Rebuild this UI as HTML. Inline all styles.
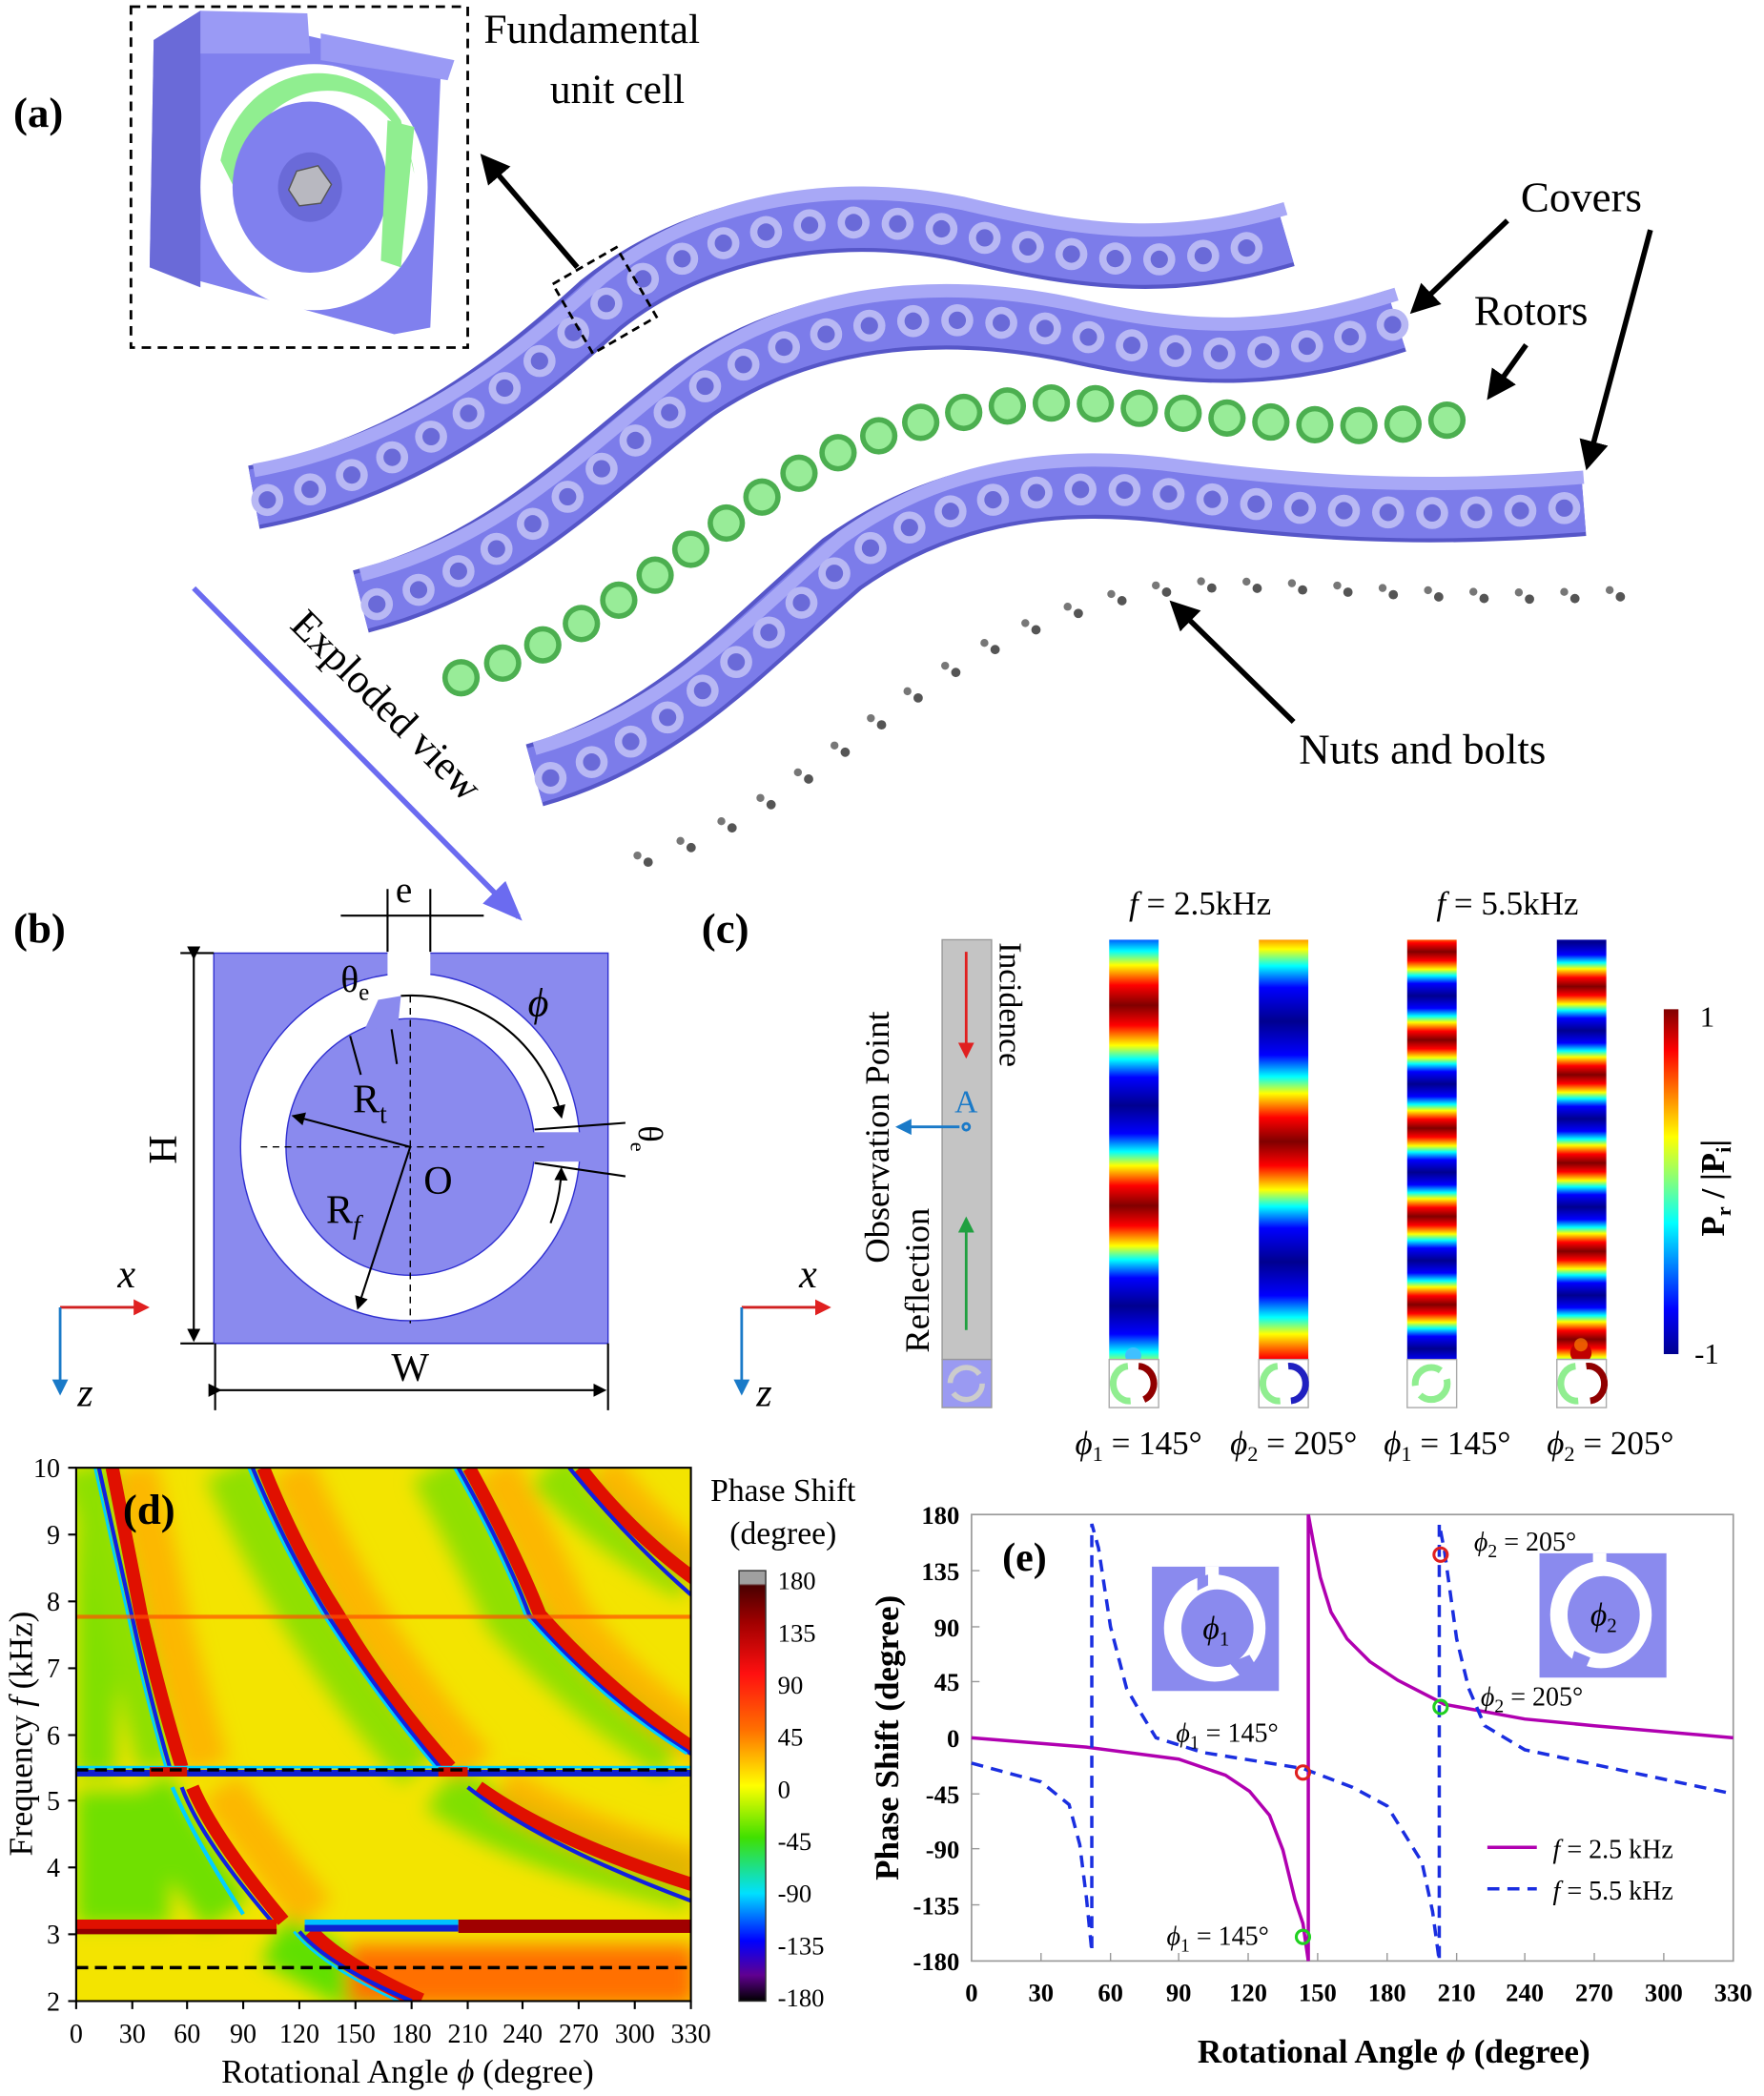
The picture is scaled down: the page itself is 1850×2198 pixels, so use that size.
<!DOCTYPE html>
<html><head><meta charset="utf-8"><style>
html,body{margin:0;padding:0;background:#fff}
svg{display:block}
text{font-family:"Liberation Serif",serif}
</style></head><body>
<svg width="1850" height="2198" viewBox="0 0 1320 1568" preserveAspectRatio="none" xmlns="http://www.w3.org/2000/svg">
<defs>
<filter id="bl" x="-20%" y="-20%" width="140%" height="140%"><feGaussianBlur stdDeviation="7"/></filter>
<clipPath id="cd"><rect x="57" y="1098" width="460" height="399"/></clipPath>
<marker id="ah" markerWidth="10" markerHeight="10" refX="8" refY="5" orient="auto" markerUnits="userSpaceOnUse"><path d="M0,0 L10,5 L0,10 z" fill="#000"/></marker>
<marker id="ahb" markerWidth="22" markerHeight="22" refX="18" refY="11" orient="auto" markerUnits="userSpaceOnUse"><path d="M0,0 L22,11 L0,22 z" fill="#000"/></marker>
<marker id="ahv" markerWidth="30" markerHeight="30" refX="26" refY="15" orient="auto" markerUnits="userSpaceOnUse"><path d="M0,3 L30,15 L0,27 z" fill="#6b6bf0"/></marker>
<marker id="ahr" markerWidth="12" markerHeight="12" refX="10" refY="6" orient="auto" markerUnits="userSpaceOnUse"><path d="M0,0 L12,6 L0,12 z" fill="#e02020"/></marker>
<marker id="ahg" markerWidth="12" markerHeight="12" refX="10" refY="6" orient="auto" markerUnits="userSpaceOnUse"><path d="M0,0 L12,6 L0,12 z" fill="#20a040"/></marker>
<marker id="ahbl" markerWidth="12" markerHeight="12" refX="10" refY="6" orient="auto" markerUnits="userSpaceOnUse"><path d="M0,0 L12,6 L0,12 z" fill="#1a7ac8"/></marker>
<linearGradient id="jetc" x1="0" y1="0" x2="0" y2="1">
<stop offset="0" stop-color="#800000"/><stop offset=".1" stop-color="#ff0000"/><stop offset=".2" stop-color="#ffff00"/><stop offset=".27" stop-color="#00ffff"/><stop offset=".36" stop-color="#0000ff"/><stop offset=".5" stop-color="#00008f"/><stop offset=".64" stop-color="#0000ff"/><stop offset=".73" stop-color="#00ffff"/><stop offset=".8" stop-color="#ffff00"/><stop offset=".9" stop-color="#ff0000"/><stop offset="1" stop-color="#800000"/>
</linearGradient>
<linearGradient id="c1" href="#jetc" gradientUnits="userSpaceOnUse" x1="0" y1="752" x2="0" y2="902" spreadMethod="repeat"/>
<linearGradient id="c2" href="#jetc" gradientUnits="userSpaceOnUse" x1="0" y1="674" x2="0" y2="854" spreadMethod="repeat"/>
<linearGradient id="c3" href="#jetc" gradientUnits="userSpaceOnUse" x1="0" y1="712" x2="0" y2="778" spreadMethod="repeat"/>
<linearGradient id="c4" href="#jetc" gradientUnits="userSpaceOnUse" x1="0" y1="738" x2="0" y2="804" spreadMethod="repeat"/>
<linearGradient id="jcb" x1="0" y1="0" x2="0" y2="1">
<stop offset="0" stop-color="#800000"/><stop offset=".12" stop-color="#ff0000"/><stop offset=".37" stop-color="#ffff00"/><stop offset=".5" stop-color="#80ff80"/><stop offset=".62" stop-color="#00ffff"/><stop offset=".87" stop-color="#0000ff"/><stop offset="1" stop-color="#00008f"/>
</linearGradient>
<linearGradient id="dcb" x1="0" y1="0" x2="0" y2="1">
<stop offset="0" stop-color="#a0a0a0"/><stop offset=".03" stop-color="#a0a0a0"/><stop offset=".035" stop-color="#4a0000"/><stop offset=".12" stop-color="#a00000"/><stop offset=".24" stop-color="#ff1010"/><stop offset=".37" stop-color="#ff7000"/><stop offset=".5" stop-color="#ffff00"/><stop offset=".62" stop-color="#40e000"/><stop offset=".75" stop-color="#00e0ff"/><stop offset=".86" stop-color="#0000ff"/><stop offset=".94" stop-color="#600090"/><stop offset="1" stop-color="#000000"/>
</linearGradient>
</defs>

<!-- ============ PANEL (a) ============ -->
<text x="10" y="95" font-size="32" font-weight="bold">(a)</text>
<rect x="98" y="5" width="252" height="255" fill="none" stroke="#000" stroke-width="2" stroke-dasharray="7,5"/>
<polygon points="115,30 150,8 330,50 322,245 295,250 112,200" fill="#8080ee"/>
<polygon points="115,30 150,8 150,215 112,200" fill="#6a6ad8"/>
<polygon points="150,8 230,10 232,40 150,40" fill="#9a9af5"/>
<polygon points="240,25 340,45 335,60 240,45" fill="#9a9af5"/>
<ellipse cx="235" cy="140" rx="85" ry="92" fill="#fff"/>
<path d="M165,120 A75,82 0 0 1 300,90 L310,130 A60,66 0 0 0 180,150 z" fill="#90ee90"/>
<ellipse cx="232" cy="140" rx="58" ry="64" fill="#8080ee"/>
<ellipse cx="232" cy="140" rx="24" ry="26" fill="#6a6ad8"/>
<polygon points="222,128 238,124 248,138 240,152 224,154 216,142" fill="#b8b8c0" stroke="#555"/>
<path d="M290,90 L310,95 L300,200 L285,195 z" fill="#90ee90"/>
<g stroke-linecap="round" fill="none">
 <path d="M190,372 C300,352 380,292 450,228 C520,172 620,152 720,172 C820,196 880,200 962,176" stroke="#5656c8" stroke-width="48" stroke-linecap="butt"/>
 <path d="M190,372 C300,352 380,292 450,228 C520,172 620,152 720,172 C820,196 880,200 962,176" stroke="#7c7cea" stroke-width="42" stroke-linecap="butt"/>
 <path d="M190,352 C300,332 380,272 450,208 C520,152 620,132 720,152 C820,176 880,180 962,156" stroke="#a8a8f6" stroke-width="10" stroke-linecap="butt"/>
 <path d="M200,374 C300,354 380,294 450,230 C520,174 620,154 720,174 C820,198 880,202 962,178" stroke="#b8b8f4" stroke-width="24" stroke-dasharray="0 33"/>
 <path d="M200,374 C300,354 380,294 450,230 C520,174 620,154 720,174 C820,198 880,202 962,178" stroke="#6a6ad8" stroke-width="13" stroke-dasharray="0 33"/>

 <path d="M270,450 C380,422 440,352 520,292 C600,237 700,227 800,247 C900,270 960,267 1045,240" stroke="#5656c8" stroke-width="48" stroke-linecap="butt"/>
 <path d="M270,450 C380,422 440,352 520,292 C600,237 700,227 800,247 C900,270 960,267 1045,240" stroke="#7c7cea" stroke-width="42" stroke-linecap="butt"/>
 <path d="M270,430 C380,402 440,332 520,272 C600,217 700,207 800,227 C900,250 960,247 1045,220" stroke="#a8a8f6" stroke-width="10" stroke-linecap="butt"/>
 <path d="M282,452 C380,424 440,354 520,294 C600,239 700,229 800,249 C900,272 960,269 1045,242" stroke="#b8b8f4" stroke-width="24" stroke-dasharray="0 33"/>
 <path d="M282,452 C380,424 440,354 520,294 C600,239 700,229 800,249 C900,272 960,269 1045,242" stroke="#6a6ad8" stroke-width="13" stroke-dasharray="0 33"/>

 <path d="M345,507 C430,482 500,422 570,372 C640,322 730,297 820,302 C920,312 1000,327 1100,312" stroke="#4caf50" stroke-width="28" stroke-dasharray="0 33"/>
 <path d="M345,507 C430,482 500,422 570,372 C640,322 730,297 820,302 C920,312 1000,327 1100,312" stroke="#98ec98" stroke-width="20" stroke-dasharray="0 33"/>

 <path d="M400,580 C500,552 560,482 630,422 C700,372 780,357 870,367 C970,380 1060,387 1185,377" stroke="#5656c8" stroke-width="48" stroke-linecap="butt"/>
 <path d="M400,580 C500,552 560,482 630,422 C700,372 780,357 870,367 C970,380 1060,387 1185,377" stroke="#7c7cea" stroke-width="42" stroke-linecap="butt"/>
 <path d="M400,560 C500,532 560,462 630,402 C700,352 780,337 870,347 C970,360 1060,367 1185,357" stroke="#a8a8f6" stroke-width="10" stroke-linecap="butt"/>
 <path d="M412,582 C500,554 560,484 630,424 C700,374 780,359 870,369 C970,382 1060,389 1185,379" stroke="#b8b8f4" stroke-width="24" stroke-dasharray="0 33"/>
 <path d="M412,582 C500,554 560,484 630,424 C700,374 780,359 870,369 C970,382 1060,389 1185,379" stroke="#6a6ad8" stroke-width="13" stroke-dasharray="0 33"/>

 <path d="M485,645 C560,625 620,570 690,520 C760,470 830,445 900,440 C1000,438 1100,455 1235,445" stroke="#555" stroke-width="7" stroke-dasharray="0 34"/>
 <path d="M477,640 C552,620 612,565 682,515 C752,465 822,440 892,435 C992,433 1092,450 1227,440" stroke="#777" stroke-width="6" stroke-dasharray="0 34"/>
</g>
<rect x="425" y="195" width="55" height="60" fill="none" stroke="#000" stroke-width="2" stroke-dasharray="6,4" transform="rotate(-30 452 225)"/>
<line x1="432" y1="200" x2="362" y2="118" stroke="#000" stroke-width="4" marker-end="url(#ahb)"/>
<line x1="1128" y1="165" x2="1058" y2="232" stroke="#000" stroke-width="4" marker-end="url(#ahb)"/>
<line x1="1235" y1="172" x2="1188" y2="348" stroke="#000" stroke-width="4" marker-end="url(#ahb)"/>
<line x1="1142" y1="258" x2="1115" y2="296" stroke="#000" stroke-width="4" marker-end="url(#ahb)"/>
<line x1="968" y1="540" x2="878" y2="452" stroke="#000" stroke-width="4" marker-end="url(#ahb)"/>
<line x1="145" y1="440" x2="388" y2="686" stroke="#6b6bf0" stroke-width="4" marker-end="url(#ahv)"/>
<text x="362" y="32" font-size="31">Fundamental</text>
<text x="462" y="77" font-size="31" text-anchor="middle">unit cell</text>
<text x="1138" y="158" font-size="32">Covers</text>
<text x="1103" y="243" font-size="32">Rotors</text>
<text x="972" y="571" font-size="32">Nuts and bolts</text>
<text x="282" y="535" font-size="31" text-anchor="middle" transform="rotate(45 282 535)">Exploded view</text>

<!-- ============ PANEL (b) ============ -->
<text x="10" y="705" font-size="32" font-weight="bold">(b)</text>
<rect x="160" y="713" width="295" height="292" fill="#8a8aee" stroke="#3030d0" stroke-width="1"/>
<ellipse cx="307" cy="858" rx="127" ry="130" fill="#fff" stroke="#3030d0" stroke-width="1"/>
<rect x="290" y="712" width="32" height="40" fill="#fff"/>
<path d="M322,752 L322,745 A127,130 0 0 1 412,790 L 400,800 z" fill="#fff"/>
<ellipse cx="307" cy="858" rx="93" ry="96" fill="#8a8aee" stroke="#3030d0" stroke-width="1"/>
<polygon points="272,772 298,765 300,745 283,748" fill="#8a8aee"/>
<rect x="398" y="847" width="38" height="22" fill="#8a8aee"/>
<g stroke="#000" stroke-width="1.5" fill="none">
<line x1="255" y1="685" x2="362" y2="685"/><line x1="290" y1="665" x2="290" y2="712"/><line x1="322" y1="665" x2="322" y2="712"/>
<line x1="135" y1="713" x2="160" y2="713"/><line x1="135" y1="1005" x2="160" y2="1005"/>
<line x1="145" y1="716" x2="145" y2="1002" marker-start="url(#ah)" marker-end="url(#ah)"/>
<line x1="161" y1="1005" x2="161" y2="1055"/><line x1="455" y1="1005" x2="455" y2="1055"/>
<line x1="164" y1="1040" x2="452" y2="1040" marker-start="url(#ah)" marker-end="url(#ah)"/>
<line x1="307" y1="745" x2="307" y2="990" stroke-dasharray="5,4" stroke-width="1"/>
<line x1="195" y1="858" x2="410" y2="858" stroke-dasharray="5,4" stroke-width="1"/>
<line x1="307" y1="858" x2="220" y2="835" marker-end="url(#ah)"/>
<line x1="307" y1="858" x2="268" y2="978" marker-end="url(#ah)"/>
<path d="M300,745 A115,118 0 0 1 420,835" marker-end="url(#ah)"/>
<path d="M412,915 A115,118 0 0 0 420,875" marker-end="url(#ah)"/>
<line x1="262" y1="775" x2="270" y2="804"/><line x1="293" y1="770" x2="297" y2="796"/>
<line x1="400" y1="845" x2="468" y2="840"/><line x1="400" y1="870" x2="468" y2="880"/>
</g>
<text x="296" y="675" font-size="28">e</text>
<text x="255" y="742" font-size="28">θ<tspan font-size="18" dy="6">e</tspan></text>
<text x="395" y="760" font-size="30" font-style="italic">ϕ</text>
<text x="264" y="832" font-size="30">R<tspan font-size="20" dy="8">t</tspan></text>
<text x="317" y="893" font-size="30">O</text>
<text x="244" y="915" font-size="30">R<tspan font-size="20" dy="8" font-style="italic">f</tspan></text>
<text x="132" y="860" font-size="30" text-anchor="middle" transform="rotate(-90 132 860)">H</text>
<text x="307" y="1033" font-size="30" text-anchor="middle">W</text>
<text x="478" y="842" font-size="26" transform="rotate(90 478 842)">θ<tspan font-size="16" dy="6">e</tspan></text>
<line x1="45" y1="978" x2="110" y2="978" stroke="#d02020" stroke-width="2" marker-end="url(#ahr)"/>
<line x1="45" y1="978" x2="45" y2="1042" stroke="#1a7ac8" stroke-width="2" marker-end="url(#ahbl)"/>
<text x="88" y="963" font-size="30" font-style="italic">x</text>
<text x="58" y="1052" font-size="30" font-style="italic">z</text>

<!-- ============ PANEL (c) ============ -->
<text x="525" y="705" font-size="32" font-weight="bold">(c)</text>
<line x1="555" y1="978" x2="620" y2="978" stroke="#d02020" stroke-width="2" marker-end="url(#ahr)"/>
<line x1="555" y1="978" x2="555" y2="1042" stroke="#1a7ac8" stroke-width="2" marker-end="url(#ahbl)"/>
<text x="598" y="963" font-size="30" font-style="italic">x</text>
<text x="566" y="1052" font-size="30" font-style="italic">z</text>
<rect x="705" y="703" width="37" height="314" fill="#c4c4c4" stroke="#999"/>
<rect x="705" y="1017" width="37" height="36" fill="#9a9af2" stroke="#999"/>
<circle cx="723" cy="1035" r="12" fill="none" stroke="#ccc" stroke-width="4" stroke-dasharray="30 8"/>
<line x1="723" y1="712" x2="723" y2="790" stroke="#e02020" stroke-width="2" marker-end="url(#ahr)"/>
<line x1="723" y1="995" x2="723" y2="912" stroke="#20a040" stroke-width="2" marker-end="url(#ahg)"/>
<circle cx="723" cy="843" r="2.5" fill="none" stroke="#1a7ac8" stroke-width="2"/>
<line x1="718" y1="843" x2="672" y2="843" stroke="#1a7ac8" stroke-width="2" marker-end="url(#ahbl)"/>
<text x="723" y="832" font-size="24" fill="#1a7ac8" text-anchor="middle">A</text>
<text x="748" y="705" font-size="24" transform="rotate(90 748 705)">Incidence</text>
<text x="665" y="945" font-size="26" transform="rotate(-90 665 945)">Observation Point</text>
<text x="695" y="1012" font-size="26" transform="rotate(-90 695 1012)">Reflection</text>
<rect x="830" y="703" width="37" height="314" fill="url(#c1)"/>
<rect x="942" y="703" width="37" height="314" fill="url(#c2)"/>
<rect x="1053" y="703" width="37" height="314" fill="url(#c3)"/>
<rect x="1165" y="703" width="37" height="314" fill="url(#c4)"/>
<circle cx="848" cy="1014" r="6" fill="#40c0ff"/>
<circle cx="1183" cy="1012" r="8" fill="#c00000"/>
<circle cx="1183" cy="1006" r="5" fill="#ff8000" opacity=".7"/>
<g fill="#fff" stroke="#aaa">
<rect x="830" y="1017" width="37" height="36"/><rect x="942" y="1017" width="37" height="36"/><rect x="1053" y="1017" width="37" height="36"/><rect x="1165" y="1017" width="37" height="36"/></g>
<path d="M844,1022 A12,13 0 0 0 846,1048" fill="none" stroke="#90ee90" stroke-width="5"/>
<path d="M852,1022 A12,13 0 0 1 856,1047" fill="none" stroke="#900000" stroke-width="5"/>
<path d="M956,1022 A12,13 0 0 0 958,1048" fill="none" stroke="#90ee90" stroke-width="5"/>
<path d="M964,1022 A12,13 0 0 1 966,1048" fill="none" stroke="#2020c0" stroke-width="5"/>
<circle cx="1071" cy="1035" r="12" fill="none" stroke="#90ee90" stroke-width="5" stroke-dasharray="28 8"/>
<path d="M1179,1022 A12,13 0 0 0 1181,1048" fill="none" stroke="#90ee90" stroke-width="5"/>
<path d="M1187,1022 A12,13 0 0 1 1190,1048" fill="none" stroke="#900000" stroke-width="5"/>
<text x="898" y="684" font-size="25" text-anchor="middle"><tspan font-style="italic">f</tspan> = 2.5kHz</text>
<text x="1128" y="684" font-size="25" text-anchor="middle"><tspan font-style="italic">f</tspan> = 5.5kHz</text>
<text x="852" y="1088" font-size="25" text-anchor="middle"><tspan font-style="italic">ϕ</tspan><tspan font-size="16" dy="5">1</tspan><tspan dy="-5"> = 145°</tspan></text>
<text x="968" y="1088" font-size="25" text-anchor="middle"><tspan font-style="italic">ϕ</tspan><tspan font-size="16" dy="5">2</tspan><tspan dy="-5"> = 205°</tspan></text>
<text x="1083" y="1088" font-size="25" text-anchor="middle"><tspan font-style="italic">ϕ</tspan><tspan font-size="16" dy="5">1</tspan><tspan dy="-5"> = 145°</tspan></text>
<text x="1205" y="1088" font-size="25" text-anchor="middle"><tspan font-style="italic">ϕ</tspan><tspan font-size="16" dy="5">2</tspan><tspan dy="-5">  = 205°</tspan></text>
<rect x="1245" y="755" width="11" height="258" fill="url(#jcb)"/>
<text x="1272" y="768" font-size="22">1</text>
<text x="1268" y="1020" font-size="22">-1</text>
<text x="1290" y="925" font-size="25" font-weight="bold" transform="rotate(-90 1290 925)">P<tspan font-size="16" dy="5">r</tspan><tspan dy="-5"> / |P</tspan><tspan font-size="16" dy="5">i</tspan><tspan dy="-5">|</tspan></text>

<!-- ============ PANEL (d) ============ -->
<g clip-path="url(#cd)">
<rect x="57" y="1098" width="460" height="399" fill="#f3e400"/>
<g filter="url(#bl)" fill="none" stroke-linecap="butt">
 <rect x="57" y="1098" width="30" height="230" fill="#80e000" stroke="none"/>
 <rect x="57" y="1340" width="70" height="100" fill="#70e000" stroke="none"/>
 <path d="M60,1098 Q80,1160 92,1210 Q105,1270 118,1322" stroke="#8ee000" stroke-width="30"/>
 <path d="M172,1098 Q200,1160 230,1208 Q270,1270 315,1322" stroke="#90e000" stroke-width="40"/>
 <path d="M326,1098 Q360,1160 382,1208 Q440,1270 505,1312" stroke="#90e000" stroke-width="40"/>
 <path d="M410,1098 Q460,1150 517,1180" stroke="#90e000" stroke-width="36"/>
 <path d="M110,1337 Q130,1375 170,1432" stroke="#70e000" stroke-width="40"/>
 <path d="M330,1337 Q390,1380 517,1408" stroke="#80e000" stroke-width="40"/>
 <path d="M205,1450 Q240,1470 290,1497" stroke="#60e000" stroke-width="40"/>
 <g stroke="#ffa800" opacity=".75">
 <path d="M100,1098 Q115,1160 125,1210 Q140,1270 155,1322" stroke-width="34"/>
 <path d="M218,1098 Q245,1160 272,1208 Q310,1270 355,1322" stroke-width="34"/>
 <path d="M370,1098 Q405,1160 425,1208 Q470,1270 540,1312" stroke-width="34"/>
 <path d="M450,1098 Q490,1150 540,1185" stroke-width="30"/>
 <path d="M165,1337 Q190,1375 235,1432" stroke-width="34"/>
 <path d="M375,1337 Q430,1375 540,1405" stroke-width="34"/>
 </g>
 <rect x="260" y="1455" width="260" height="45" fill="#ff7000" stroke="none"/>
</g>
<g fill="none" stroke-linecap="butt">
 <path d="M84,1098 Q96,1160 106,1210 Q120,1270 136,1322" stroke="#e01000" stroke-width="10"/>
 <path d="M197,1098 Q222,1160 253,1208 Q290,1270 337,1322" stroke="#e01000" stroke-width="10"/>
 <path d="M351,1098 Q385,1160 404,1208 Q460,1270 525,1312" stroke="#e01000" stroke-width="10"/>
 <path d="M434,1098 Q475,1150 525,1185" stroke="#e01000" stroke-width="10"/>
 <path d="M144,1337 Q160,1375 212,1437" stroke="#e01000" stroke-width="10"/>
 <path d="M358,1337 Q415,1378 525,1412" stroke="#e01000" stroke-width="10"/>
 <path d="M232,1445 Q255,1470 315,1497" stroke="#e01000" stroke-width="12"/>
 <path d="M74,1098 Q88,1160 99,1210 Q112,1270 127,1322" stroke="#1020e0" stroke-width="3"/>
 <path d="M71,1098 Q85,1160 96,1210 Q109,1270 124,1322" stroke="#00d0ff" stroke-width="2"/>
 <path d="M189,1098 Q215,1160 245,1208 Q285,1270 329,1322" stroke="#1020e0" stroke-width="3"/>
 <path d="M186,1098 Q212,1160 242,1208 Q282,1270 326,1322" stroke="#00d0ff" stroke-width="2"/>
 <path d="M343,1098 Q378,1160 396,1208 Q450,1270 517,1312" stroke="#1020e0" stroke-width="3"/>
 <path d="M340,1098 Q375,1160 393,1208 Q447,1270 514,1312" stroke="#00d0ff" stroke-width="2"/>
 <path d="M426,1098 Q468,1150 517,1193" stroke="#1020e0" stroke-width="3"/>
 <path d="M136,1337 Q150,1375 203,1437" stroke="#1020e0" stroke-width="3"/>
 <path d="M129,1337 Q145,1375 182,1432" stroke="#00d0ff" stroke-width="3"/>
 <path d="M350,1337 Q405,1380 517,1422" stroke="#1020e0" stroke-width="3"/>
 <path d="M224,1445 Q245,1470 308,1497" stroke="#1020e0" stroke-width="3"/>
 <path d="M220,1445 Q240,1470 298,1497" stroke="#00d0ff" stroke-width="2"/>
</g>
<rect x="57" y="1208" width="460" height="3" fill="#ff5000" opacity=".7"/>
<rect x="57" y="1324" width="460" height="5" fill="#1020d0"/>
<rect x="57" y="1321" width="460" height="2" fill="#00d0ff"/>
<rect x="112" y="1322" width="28" height="7" fill="#d01000"/>
<rect x="328" y="1322" width="22" height="7" fill="#d01000"/>
<rect x="57" y="1436" width="150" height="10" fill="#e01000"/>
<rect x="57" y="1443" width="150" height="4" fill="#900000"/>
<rect x="228" y="1436" width="115" height="6" fill="#00c0ff"/>
<rect x="228" y="1440" width="115" height="5" fill="#1020d0"/>
<rect x="343" y="1436" width="174" height="10" fill="#a00000"/>
<line x1="57" y1="1324" x2="517" y2="1324" stroke="#000" stroke-width="2.5" stroke-dasharray="9,5"/>
<line x1="57" y1="1472" x2="517" y2="1472" stroke="#000" stroke-width="2.5" stroke-dasharray="9,5"/>
</g>
<rect x="57" y="1098" width="460" height="399" fill="none" stroke="#000" stroke-width="1.5"/>
<g stroke="#000" stroke-width="1.5">
<line x1="57" y1="1497" x2="57" y2="1503"/><line x1="99" y1="1497" x2="99" y2="1503"/><line x1="140" y1="1497" x2="140" y2="1503"/><line x1="182" y1="1497" x2="182" y2="1503"/><line x1="224" y1="1497" x2="224" y2="1503"/><line x1="266" y1="1497" x2="266" y2="1503"/><line x1="308" y1="1497" x2="308" y2="1503"/><line x1="350" y1="1497" x2="350" y2="1503"/><line x1="391" y1="1497" x2="391" y2="1503"/><line x1="433" y1="1497" x2="433" y2="1503"/><line x1="475" y1="1497" x2="475" y2="1503"/><line x1="517" y1="1497" x2="517" y2="1503"/>
<line x1="51" y1="1098" x2="57" y2="1098"/><line x1="51" y1="1148" x2="57" y2="1148"/><line x1="51" y1="1198" x2="57" y2="1198"/><line x1="51" y1="1248" x2="57" y2="1248"/><line x1="51" y1="1298" x2="57" y2="1298"/><line x1="51" y1="1347" x2="57" y2="1347"/><line x1="51" y1="1397" x2="57" y2="1397"/><line x1="51" y1="1447" x2="57" y2="1447"/><line x1="51" y1="1497" x2="57" y2="1497"/>
</g>
<g font-size="20" text-anchor="middle">
<text x="57" y="1528">0</text><text x="99" y="1528">30</text><text x="140" y="1528">60</text><text x="182" y="1528">90</text><text x="224" y="1528">120</text><text x="266" y="1528">150</text><text x="308" y="1528">180</text><text x="350" y="1528">210</text><text x="391" y="1528">240</text><text x="433" y="1528">270</text><text x="475" y="1528">300</text><text x="517" y="1528">330</text>
</g>
<g font-size="20" text-anchor="end">
<text x="45" y="1105">10</text><text x="45" y="1155">9</text><text x="45" y="1205">8</text><text x="45" y="1255">7</text><text x="45" y="1305">6</text><text x="45" y="1354">5</text><text x="45" y="1404">4</text><text x="45" y="1454">3</text><text x="45" y="1504">2</text>
</g>
<text x="92" y="1140" font-size="32" font-weight="bold">(d)</text>
<text x="305" y="1558" font-size="25" text-anchor="middle">Rotational Angle <tspan font-style="italic">ϕ</tspan> (degree)</text>
<text x="24" y="1297" font-size="25" text-anchor="middle" transform="rotate(-90 24 1297)">Frequency <tspan font-style="italic">f</tspan> (kHz)</text>
<text x="586" y="1123" font-size="24" text-anchor="middle">Phase Shift</text>
<text x="586" y="1155" font-size="24" text-anchor="middle">(degree)</text>
<rect x="553" y="1175" width="20" height="322" fill="url(#dcb)" stroke="#333" stroke-width="1"/>
<g font-size="19">
<text x="582" y="1189">180</text><text x="582" y="1228">135</text><text x="582" y="1267">90</text><text x="582" y="1306">45</text><text x="582" y="1345">0</text><text x="582" y="1384">-45</text><text x="582" y="1423">-90</text><text x="582" y="1462">-135</text><text x="582" y="1501">-180</text>
</g>

<!-- ============ PANEL (e) ============ -->
<rect x="727" y="1133" width="570" height="334" fill="none" stroke="#999" stroke-width="1.2"/>
<g stroke="#999" stroke-width="1">
<line x1="779" y1="1467" x2="779" y2="1461"/><line x1="831" y1="1467" x2="831" y2="1461"/><line x1="882" y1="1467" x2="882" y2="1461"/><line x1="934" y1="1467" x2="934" y2="1461"/><line x1="986" y1="1467" x2="986" y2="1461"/><line x1="1038" y1="1467" x2="1038" y2="1461"/><line x1="1090" y1="1467" x2="1090" y2="1461"/><line x1="1141" y1="1467" x2="1141" y2="1461"/><line x1="1193" y1="1467" x2="1193" y2="1461"/><line x1="1245" y1="1467" x2="1245" y2="1461"/>
<line x1="727" y1="1175" x2="733" y2="1175"/><line x1="727" y1="1217" x2="733" y2="1217"/><line x1="727" y1="1258" x2="733" y2="1258"/><line x1="727" y1="1342" x2="733" y2="1342"/><line x1="727" y1="1383" x2="733" y2="1383"/><line x1="727" y1="1425" x2="733" y2="1425"/>
</g>
<g font-size="19" font-weight="bold" text-anchor="end">
<text x="718" y="1140">180</text><text x="718" y="1182">135</text><text x="718" y="1224">90</text><text x="718" y="1265">45</text><text x="718" y="1307">0</text><text x="718" y="1349">-45</text><text x="718" y="1390">-90</text><text x="718" y="1432">-135</text><text x="718" y="1474">-180</text>
</g>
<g font-size="19" font-weight="bold" text-anchor="middle">
<text x="727" y="1497">0</text><text x="779" y="1497">30</text><text x="831" y="1497">60</text><text x="882" y="1497">90</text><text x="934" y="1497">120</text><text x="986" y="1497">150</text><text x="1038" y="1497">180</text><text x="1090" y="1497">210</text><text x="1141" y="1497">240</text><text x="1193" y="1497">270</text><text x="1245" y="1497">300</text><text x="1297" y="1497">330</text>
</g>
<text x="1043" y="1543" font-size="25" font-weight="bold" text-anchor="middle">Rotational Angle <tspan font-style="italic">ϕ</tspan> (degree)</text>
<text x="672" y="1300" font-size="25" font-weight="bold" text-anchor="middle" transform="rotate(-90 672 1300)">Phase Shift (degree)</text>
<text x="750" y="1175" font-size="30" font-weight="bold">(e)</text>
<rect x="862" y="1172" width="95" height="93" fill="#8a8aee"/>
<ellipse cx="909" cy="1218" rx="38" ry="40" fill="#fff"/>
<rect x="902" y="1172" width="10" height="14" fill="#fff"/>
<ellipse cx="911" cy="1218" rx="27" ry="29" fill="#8a8aee"/>
<polygon points="920,1244 935,1238 942,1250 930,1256" fill="#8a8aee"/>
<polygon points="896,1190 904,1186 904,1178 896,1180" fill="#8a8aee"/>
<text x="910" y="1226" font-size="24" text-anchor="middle" font-style="italic">ϕ<tspan font-size="15" dy="5" font-style="normal">1</tspan></text>
<rect x="1152" y="1162" width="95" height="93" fill="#8a8aee"/>
<ellipse cx="1198" cy="1208" rx="38" ry="40" fill="#fff"/>
<rect x="1192" y="1162" width="10" height="14" fill="#fff"/>
<ellipse cx="1200" cy="1208" rx="27" ry="29" fill="#8a8aee"/>
<polygon points="1178,1235 1190,1240 1184,1254 1174,1250" fill="#8a8aee"/>
<text x="1200" y="1216" font-size="24" text-anchor="middle" font-style="italic">ϕ<tspan font-size="15" dy="5" font-style="normal">2</tspan></text>
<path d="M727,1300 L813,1307 L882,1316 L917,1328 L935,1340 L950,1358 L960,1384 L969,1421 L975,1439 L979,1467 L979,1133 L983,1155 L988,1180 L996,1206 L1008,1226 L1025,1243 L1046,1257 L1081,1275 L1141,1286 L1193,1291 L1297,1300" fill="none" stroke="#b000b0" stroke-width="2.5"/>
<path d="M727,1319 L779,1333 L800,1350 L808,1380 L813,1420 L817,1460 L817,1140 L822,1158 L831,1217 L843,1263 L851,1277 L865,1300 L900,1311 L975,1323 L1012,1337 L1038,1351 L1064,1393 L1072,1430 L1077,1467 L1077,1140 L1081,1161 L1090,1226 L1099,1263 L1111,1291 L1141,1309 L1193,1320 L1297,1342" fill="none" stroke="#1a2ee0" stroke-width="2.5" stroke-dasharray="9,6"/>
<circle cx="975" cy="1326" r="5" fill="none" stroke="#e02020" stroke-width="2.2"/>
<circle cx="975" cy="1449" r="5" fill="none" stroke="#20d020" stroke-width="2.2"/>
<circle cx="1078" cy="1163" r="5" fill="none" stroke="#e02020" stroke-width="2.2"/>
<circle cx="1078" cy="1277" r="5" fill="none" stroke="#20d020" stroke-width="2.2"/>
<g font-size="20">
<text x="1103" y="1160"><tspan font-style="italic">ϕ</tspan><tspan font-size="14" dy="5">2</tspan><tspan dy="-5"> = 205°</tspan></text>
<text x="1108" y="1276"><tspan font-style="italic">ϕ</tspan><tspan font-size="14" dy="5">2</tspan><tspan dy="-5"> = 205°</tspan></text>
<text x="880" y="1303"><tspan font-style="italic">ϕ</tspan><tspan font-size="14" dy="5">1</tspan><tspan dy="-5">  = 145°</tspan></text>
<text x="873" y="1455"><tspan font-style="italic">ϕ</tspan><tspan font-size="14" dy="5">1</tspan><tspan dy="-5">  = 145°</tspan></text>
</g>
<line x1="1113" y1="1382" x2="1150" y2="1382" stroke="#b000b0" stroke-width="2.5"/>
<line x1="1113" y1="1413" x2="1150" y2="1413" stroke="#1a2ee0" stroke-width="2.5" stroke-dasharray="9,6"/>
<text x="1162" y="1390" font-size="20"><tspan font-style="italic">f</tspan> =  2.5  kHz</text>
<text x="1162" y="1421" font-size="20"><tspan font-style="italic">f</tspan> =  5.5  kHz</text>
</svg>
</body></html>
